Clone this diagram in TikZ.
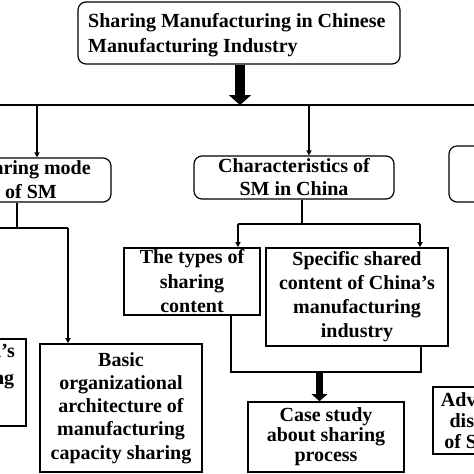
\documentclass[tikz,border=0pt]{standalone}
\usepackage{fontspec}
\setmainfont{Liberation Serif}
\usetikzlibrary{arrows.meta}
\begin{document}
\begin{tikzpicture}[x=1pt,y=-1pt,
  txt/.style={inner sep=0pt, align=center, font=\fontsize{20}{#1}\selectfont\bfseries},
  txt/.default=23.5,
  rbox/.style={draw, rounded corners=8pt, line width=1.2pt, inner sep=0pt, align=center, font=\fontsize{20}{#1}\selectfont\bfseries},
  rbox/.default=23.5,
  sbox/.style={draw, line width=1.6pt, inner sep=0pt, align=center, font=\fontsize{20}{#1}\selectfont\bfseries},
  sbox/.default=23.5,
  conn/.style={line width=1.3pt},
  arr/.style={conn, -{Triangle[width=5pt,length=5pt]}},
  bigarr/.style={line width=#1, -{Triangle[width=2.2*#1,length=#1]}},
]
\useasboundingbox (0,0) rectangle (474,474);
\clip (0,0) rectangle (474,474);

% top box
\node[rbox, minimum width=322pt, minimum height=62pt] (top) at (239,33) {};
\node[txt=24.5, align=left, anchor=north west] (toptext) at (88,13.5)
  {Sharing Manufacturing in Chinese\\Manufacturing Industry};

% second level
\node[rbox=24, minimum width=160pt, minimum height=44pt] (smode) at (31,180) {Sharing mode\\of SM};
\node[rbox=23, minimum width=200pt, minimum height=43pt] (char) at (294,177.5) {Characteristics of\\SM in China};
\node[rbox, minimum width=112pt, minimum height=56pt] (rtop) at (505,174) {};

% third level
\node[sbox=24.5, minimum width=136pt, minimum height=67pt] (types) at (192,281.5) {The types of\\sharing\\content};
\node[sbox=24, minimum width=182pt, minimum height=98pt] (spec) at (357,297) {Specific shared\\content of China's\\manufacturing\\industry};
\node[sbox=23.25, minimum width=162pt, minimum height=128pt] (basic) at (121,408) {Basic\\organizational\\architecture of\\manufacturing\\capacity sharing};
\node[sbox=20, minimum width=156pt, minimum height=70pt] (case) at (326,437) {Case study\\about sharing\\process};
\node[sbox, minimum width=84pt, minimum height=87pt] (lbox) at (-16,382.5) {};
\node[txt=27, anchor=north] (ltext) at (-18,343.4) {China’s\\sharing};
\node[sbox=21, minimum width=153pt, minimum height=67pt] (adv) at (509.6,420.5) {Advantages and\\disadvantages\\of SM in China};

% main bus
\coordinate (hlL) at (-5,105);
\coordinate (hlR) at (480,105);
\coordinate (hlM) at (240,105);
\coordinate (a1) at (37,105);
\coordinate (a2) at (309,105);
\draw[line width=1.8pt] (hlL) -- (hlR);
\draw[bigarr=10pt] (top.south -| hlM) -- (hlM);
\draw[arr] (a1) -- (smode.north -| a1);
\draw[arr] (a2) -- (char.north -| a2);

% left branch
\coordinate (j1) at (17,228);
\coordinate (j1L) at (-10,228);
\coordinate (j1R) at (68,228);
\draw[conn] (smode.south -| j1) -- (j1);
\draw[conn] (j1L) -- (j1R);
\draw[arr] (j1R) -- (basic.north -| j1R);

% middle branch
\coordinate (j2) at (302,224);
\coordinate (j2L) at (238,224);
\coordinate (j2R) at (420,224);
\draw[conn] (char.south -| j2) -- (j2);
\draw[conn] (j2L) -- (j2R);
\draw[arr] (j2L) -- (types.north -| j2L);
\draw[arr] (j2R) -- (spec.north -| j2R);

% join to case study
\coordinate (j3L) at (231,372);
\coordinate (j3R) at (421,372);
\coordinate (j3M) at (319.5,372);
\draw[conn] (types.south -| j3L) -- (j3L) -- (j3R) -- (spec.south -| j3R);
\draw[bigarr=7pt] (j3M) -- (case.north -| j3M);
\end{tikzpicture}
\end{document}
